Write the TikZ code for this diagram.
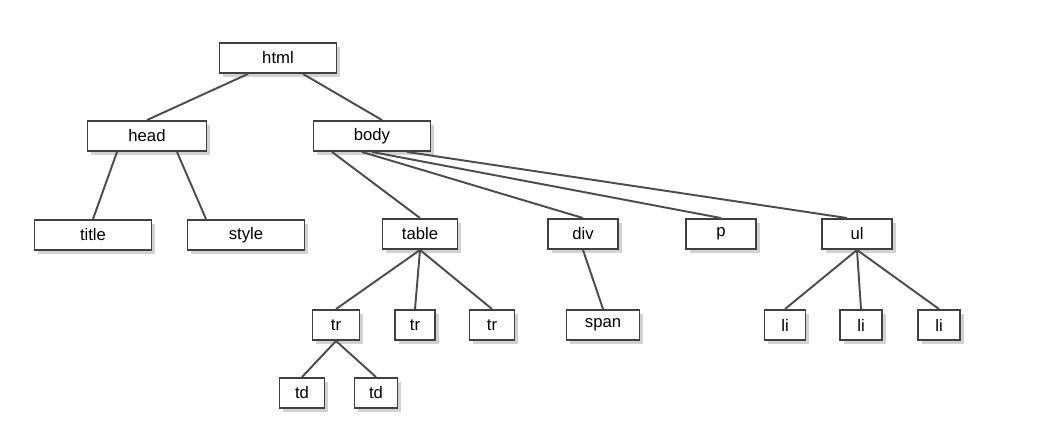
\documentclass[tikz,border=0pt]{standalone}
\usepackage{fontspec}
\setmainfont{Liberation Sans}
\usetikzlibrary{shadows}
\begin{document}
\begin{tikzpicture}[x=0.02cm,y=-0.02cm,
  box/.style={draw=black!75,line width=1.1pt,fill=white,minimum height=0.6cm,inner sep=0pt,font=\fontsize{9.5}{11}\selectfont,
    drop shadow={shadow xshift=2pt,shadow yshift=-2pt,fill=black!35}},
  ln/.style={draw=black!70,line width=1.1pt}]
\useasboundingbox (0,0) rectangle (1050,421);
\node[box,minimum width=2.34cm] (html) at (278,58) {html};
\node[box,minimum width=2.38cm] (head) at (147,136) {head};
\node[box,minimum width=2.34cm] (body) at (372,136) {body};
\node[box,minimum width=2.34cm] (title) at (93,235) {title};
\node[box,minimum width=2.34cm] (style) at (246,235) {style};
\node[box,minimum width=1.5cm] (table) at (420,234) {table};
\node[box,minimum width=1.4cm] (div) at (583,234) {div};
\node[box,minimum width=1.4cm] (p) at (721,234) {p};
\node[box,minimum width=1.4cm] (ul) at (857,234) {ul};
\node[box,minimum width=0.94cm] (tr1) at (336,325) {tr};
\node[box,minimum width=0.8cm] (tr2) at (415,325) {tr};
\node[box,minimum width=0.9cm] (tr3) at (492,325) {tr};
\node[box,minimum width=1.46cm] (span) at (603,325) {span};
\node[box,minimum width=0.82cm] (li1) at (785,325) {li};
\node[box,minimum width=0.84cm] (li2) at (861,325) {li};
\node[box,minimum width=0.84cm] (li3) at (939,325) {li};
\node[box,minimum width=0.9cm] (td1) at (302,393) {td};
\node[box,minimum width=0.86cm] (td2) at (376,393) {td};
\begin{scope}[on background layer/.style={}]
\end{scope}
\draw[ln] (html.south) ++(-30,0) coordinate (h1);
\draw[ln] (h1) -- (head.north);
\draw[ln] ([xshift=0.5cm]html.south) -- ([xshift=0.2cm]body.north);
\draw[ln] ([xshift=-0.6cm]head.south) -- (title.north);
\draw[ln] ([xshift=0.6cm]head.south) -- ([xshift=-0.8cm]style.north);
\draw[ln] ([xshift=-0.8cm]body.south) -- (table.north);
\draw[ln] ([xshift=-0.2cm]body.south) -- (div.north);
\draw[ln] (body.south) -- (p.north);
\draw[ln] ([xshift=0.7cm]body.south) -- ([xshift=-0.2cm]ul.north);
\draw[ln] (table.south) -- (tr1.north);
\draw[ln] (table.south) -- (tr2.north);
\draw[ln] (table.south) -- (tr3.north);
\draw[ln] (div.south) -- (span.north);
\draw[ln] (ul.south) -- (li1.north);
\draw[ln] (ul.south) -- (li2.north);
\draw[ln] (ul.south) -- (li3.north);
\draw[ln] (tr1.south) -- (td1.north);
\draw[ln] (tr1.south) -- (td2.north);
\end{tikzpicture}
\end{document}
